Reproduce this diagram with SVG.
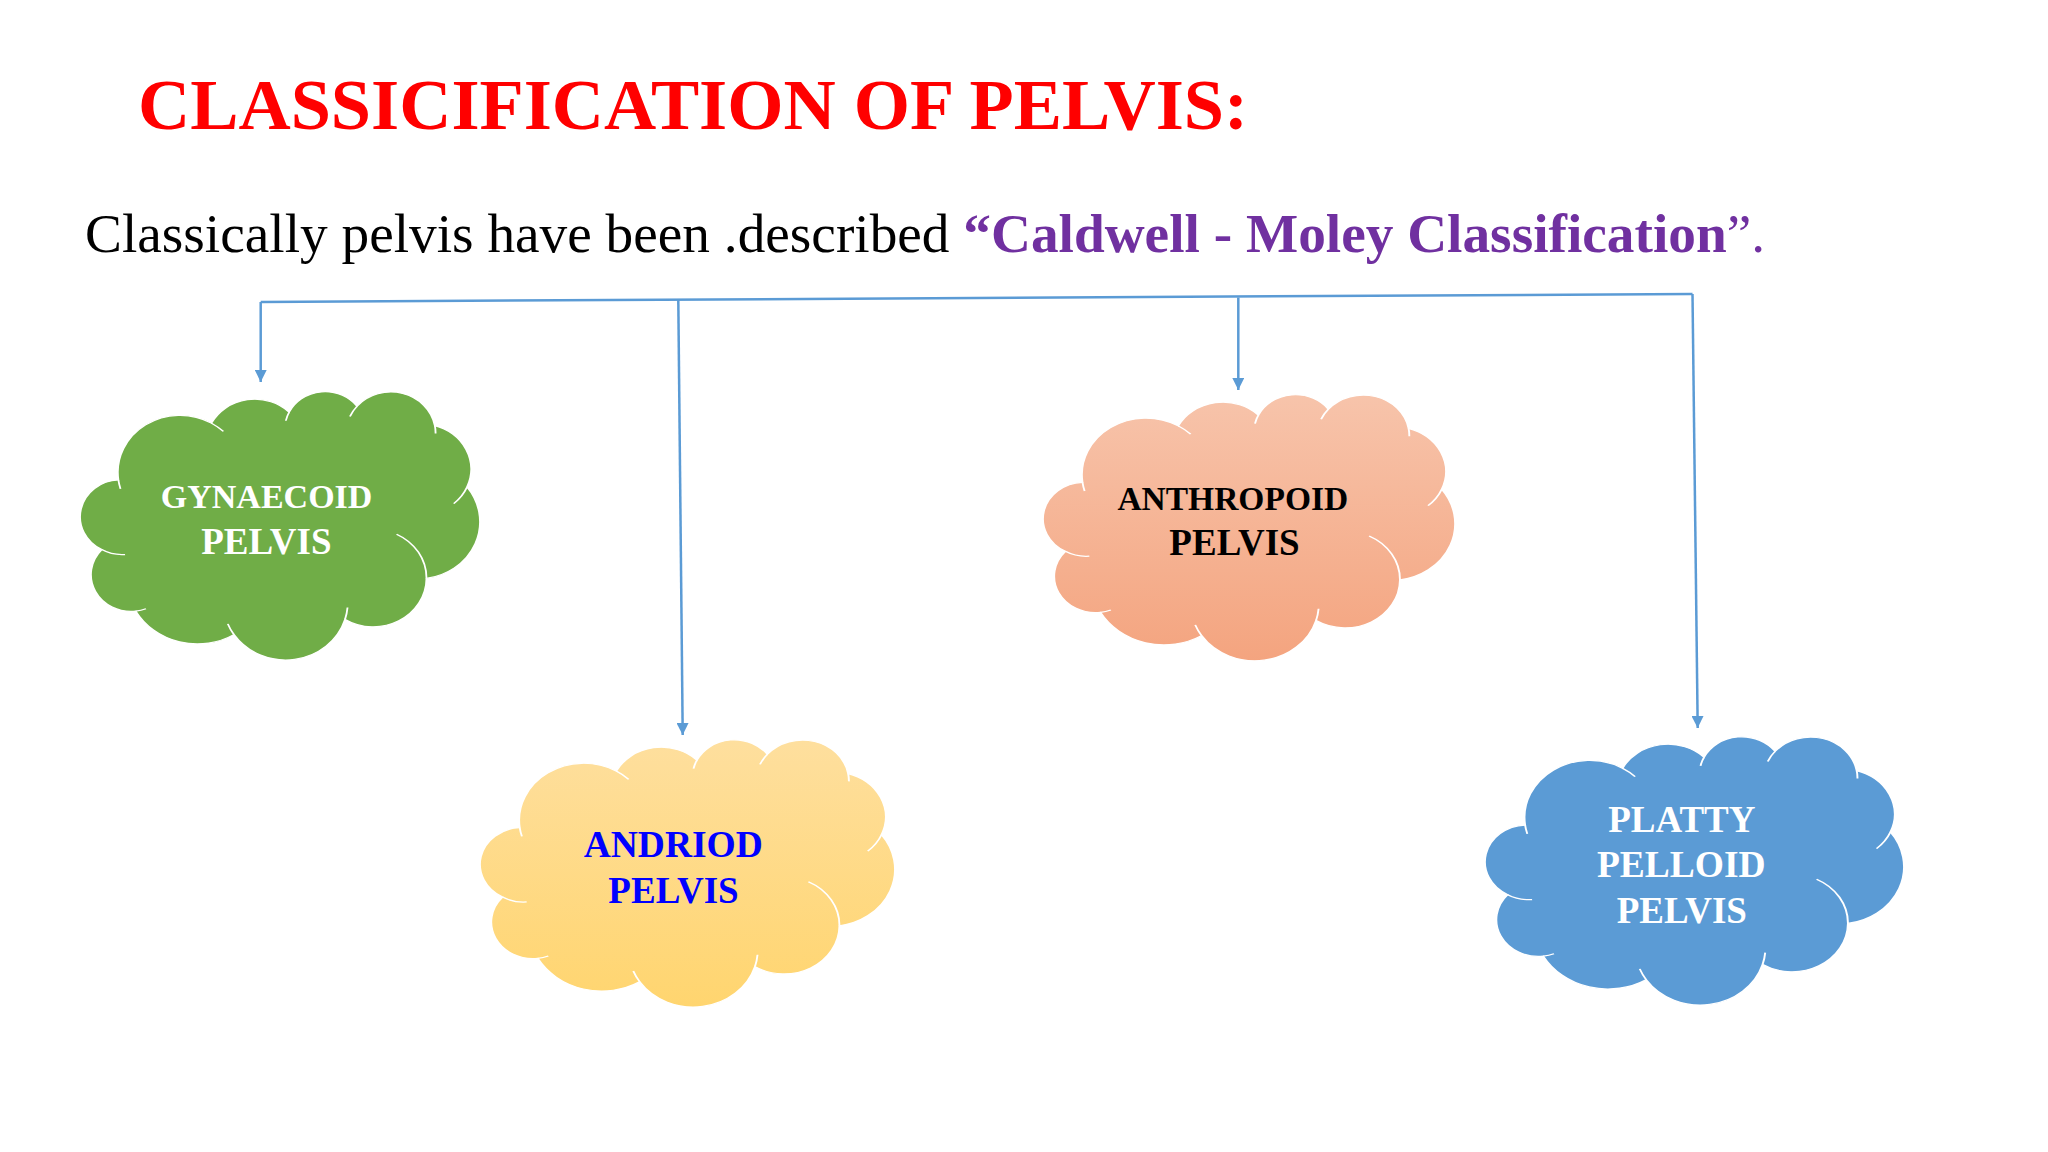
<svg xmlns="http://www.w3.org/2000/svg" xmlns:xlink="http://www.w3.org/1999/xlink" width="2048" height="1152" viewBox="0 0 2048 1152">
<style>
.serif{font-family:"Liberation Serif","Times New Roman",serif;}
.lbl{font-family:"Liberation Serif","Times New Roman",serif;font-weight:bold;text-anchor:middle;}
.conn{fill:none;stroke:#5B9BD5;stroke-width:2.5;}
.outline{stroke:#FFFFFF;stroke-width:2;vector-effect:non-scaling-stroke;}
.inner{fill:none;stroke:#FFFFFF;stroke-width:2;vector-effect:non-scaling-stroke;}
</style>
<defs>
<linearGradient id="gYellow" x1="0" y1="0" x2="0" y2="1">
<stop offset="0" stop-color="#FEDF9E"/>
<stop offset="1" stop-color="#FFD56F"/>
</linearGradient>
<linearGradient id="gSalmon" x1="0" y1="0" x2="0" y2="1">
<stop offset="0" stop-color="#F7C4AB"/>
<stop offset="1" stop-color="#F4A47F"/>
</linearGradient>
<path id="cloud" d="M 39.00 143.70 A 67.53 91.90 0 0 1 140.05 52.02 A 53.33 72.67 0 0 1 224.56 34.33 A 43.65 59.45 0 0 1 298.32 24.78 A 48.57 65.95 0 0 1 382.93 56.11 A 53.33 72.73 0 0 1 417.93 154.95 A 67.75 92.20 0 0 1 373.82 302.42 A 57.85 78.67 0 0 1 285.33 368.52 A 67.52 92.15 0 0 1 164.59 393.07 A 77.20 105.43 0 0 1 57.85 355.16 A 43.60 59.18 0 0 1 20.92 255.97 A 43.45 59.45 0 0 1 39.00 143.70 Z"/>
<path id="cloudInner" d="M 46.26 263.94 A 43.45 59.45 0 0 1 20.92 255.97 M 68.93 351.35 A 43.60 59.18 0 0 1 57.85 355.16 M 164.59 393.07 A 67.52 92.15 0 0 1 157.90 375.63 M 288.00 349.43 A 67.52 92.15 0 0 1 285.33 368.52 M 341.30 231.07 A 57.85 78.67 0 0 1 373.82 302.42 M 417.93 154.95 A 53.33 72.73 0 0 1 403.46 181.71 M 382.93 56.11 A 48.57 65.95 0 0 1 383.69 68.74 M 290.66 41.28 A 48.57 65.95 0 0 1 298.32 24.78 M 220.97 48.23 A 43.65 59.45 0 0 1 224.56 34.33 M 140.05 52.02 A 67.53 91.90 0 0 1 153.07 65.53 M 41.27 157.89 A 67.53 91.90 0 0 1 39.00 143.70"/>
<marker id="arrow" viewBox="0 0 12 12" refX="12" refY="6" markerWidth="12" markerHeight="12" markerUnits="userSpaceOnUse" orient="auto">
<path d="M0,0 L12,6 L0,12 Z" fill="#5B9BD5"/>
</marker>
</defs>
<rect x="0" y="0" width="2048" height="1152" fill="#FFFFFF"/>

<g id="title">
<text class="serif" x="138" y="129" font-size="72.3" font-weight="bold" fill="#FF0000">CLASSICIFICATION OF PELVIS:</text>
</g>
<g id="subtitle">
<text class="serif" x="85" y="252" font-size="55.3" fill="#000000">Classically pelvis have been .described <tspan font-weight="bold" fill="#7030A0">“Caldwell - Moley Classification</tspan><tspan fill="#7030A0">”.</tspan></text>
</g>

<g id="connectors">
<path class="conn" d="M 260.7 302 L 1692.5 294" stroke-width="3"/>
<path class="conn" d="M 260.7 302 L 260.7 382" marker-end="url(#arrow)"/>
<path class="conn" d="M 678.3 300 L 682.7 735" marker-end="url(#arrow)"/>
<path class="conn" d="M 1238.3 297.5 L 1238.3 390" marker-end="url(#arrow)"/>
<path class="conn" d="M 1692.5 294 L 1697.7 728" marker-end="url(#arrow)"/>
</g>

<g id="gynaecoid">
<g transform="translate(82.5 390.85) scale(0.9202 0.6202)">
<use xlink:href="#cloud" href="#cloud" fill="#70AD47" class="outline"/>
<use xlink:href="#cloudInner" href="#cloudInner" class="inner"/>
</g>
<text class="lbl" x="266.6" y="508" font-size="34" fill="#FFFFFF">GYNAECOID</text>
<text class="lbl" x="266.4" y="554" font-size="37" fill="#FFFFFF">PELVIS</text>
</g>

<g id="andriod">
<g transform="translate(482.5 738.9) scale(0.9549 0.6179)">
<use xlink:href="#cloud" href="#cloud" fill="url(#gYellow)" class="outline"/>
<use xlink:href="#cloudInner" href="#cloudInner" class="inner"/>
</g>
<text class="lbl" x="673.3" y="857" font-size="37.5" fill="#0000FF">ANDRIOD</text>
<text class="lbl" x="673.5" y="903" font-size="37" fill="#0000FF">PELVIS</text>
</g>

<g id="anthropoid">
<g transform="translate(1045.5 393.9) scale(0.9482 0.6150)">
<use xlink:href="#cloud" href="#cloud" fill="url(#gSalmon)" class="outline"/>
<use xlink:href="#cloudInner" href="#cloudInner" class="inner"/>
</g>
<text class="lbl" x="1232.8" y="510" font-size="33.5" fill="#000000">ANTHROPOID</text>
<text class="lbl" x="1234.5" y="555" font-size="37" fill="#000000">PELVIS</text>
</g>

<g id="platty">
<g transform="translate(1487.5 735.9) scale(0.9642 0.6202)">
<use xlink:href="#cloud" href="#cloud" fill="#5B9BD5" class="outline"/>
<use xlink:href="#cloudInner" href="#cloudInner" class="inner"/>
</g>
<text class="lbl" x="1681.8" y="832" font-size="37" fill="#FFFFFF">PLATTY</text>
<text class="lbl" x="1681.3" y="877" font-size="37.5" fill="#FFFFFF">PELLOID</text>
<text class="lbl" x="1681.8" y="923" font-size="37" fill="#FFFFFF">PELVIS</text>
</g>
</svg>
